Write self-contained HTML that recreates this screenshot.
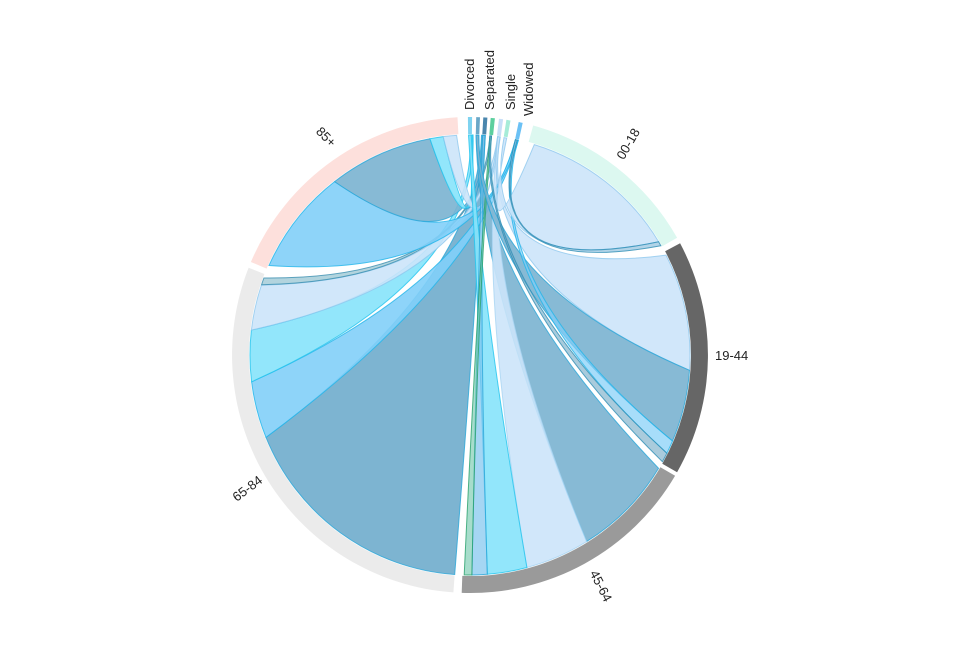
<!DOCTYPE html>
<html><head><meta charset="utf-8"><style>
html,body{margin:0;padding:0;background:#fff;}
svg{display:block;font-family:"Liberation Sans","DejaVu Sans",sans-serif;}
</style></head><body>
<svg id="s" width="980" height="657" viewBox="0 0 980 657" xmlns="http://www.w3.org/2000/svg"></svg>
<script>
var cx=470,cy=355,Ro=238,Ri=221,R=220,qx=478,qy=280;
var s=document.getElementById('s');
function p(a,r){a=a*Math.PI/180;return [cx+r*Math.sin(a),cy-r*Math.cos(a)];}
function f(q){return q[0].toFixed(1)+','+q[1].toFixed(1);}
function add(tag,attrs,txt){var e=document.createElementNS('http://www.w3.org/2000/svg',tag);for(var k in attrs)e.setAttribute(k,attrs[k]);if(txt)e.textContent=txt;s.appendChild(e);return e;}
function band(a1,a2,col){
 var l=(a2-a1)>180?1:0;
 add('path',{d:'M'+f(p(a1,Ro))+'A'+Ro+','+Ro+' 0 '+l+' 1 '+f(p(a2,Ro))+'L'+f(p(a2,Ri))+'A'+Ri+','+Ri+' 0 '+l+' 0 '+f(p(a1,Ri))+'Z',fill:col});
}
function rib(a1,a2,t1,t2,fill,stroke,op){
 var l=(a2-a1)>180?1:0;
 var d='M'+f(p(a1,R))+'A'+R+','+R+' 0 '+l+' 1 '+f(p(a2,R))+'Q'+qx+','+qy+' '+f(p(t1,R))+'A'+R+','+R+' 0 0 1 '+f(p(t2,R))+'Q'+qx+','+qy+' '+f(p(a1,R))+'Z';
 add('path',{d:d,fill:fill,stroke:stroke,'stroke-width':1,'fill-opacity':op||0.9,'stroke-opacity':0.8});
}
band(15.4,60.5,'#dcf8f0');
band(62,119.5,'#666666');
band(120.5,182,'#9a9a9a');
band(184,291.5,'#ebebeb');
band(293,357,'#fde0dc');
[[359.5,360.5,'#7fd3f0'],[1.5,2.4,'#6aa7c7'],[3.2,4.2,'#4a86ad'],[5,6,'#5ccf9e'],[7,8,'#c7dff7'],[8.8,9.8,'#a6ecd8'],[11.8,12.8,'#6bc1f5']].forEach(function(b){band(b[0],b[1],b[2]);});
var DK='#7ab3d0',LT='#cce4fa',CY='#86e3fb',MB='#82cff8';
var st='#2aa6d8';
// 65-84
rib(184,248,3,4,DK,st,0.98);
rib(248,263,11.9,12.7,MB,'#22b5ea');
rib(263,276.5,0,0.8,CY,'#22c4ee');
rib(276.5,288.5,7.2,7.9,LT,'#8fc8ee');
rib(288.6,290.5,5.2,5.6,'#7fb8c8','#3a8fb0',0.6);
// 85+
rib(294,322,11.9,12.6,MB,'#22b5ea');
rib(322,349.5,3.2,4,DK,st);
rib(349.5,353,0,0.6,CY,'#22c4ee');
rib(353,356.5,7.3,7.8,LT,'#8fc8ee');
// 45-64
rib(121,148,1.6,2.3,DK,st);
rib(148,165,7.4,7.9,LT,'#a8d4f2');
rib(165,175.5,359.6,360.3,CY,'#22c4ee');
rib(175.5,179.5,3.3,3.9,'#7fc4ee',st,0.7);
rib(179.5,181.5,5.2,5.6,'#6cc6a8','#27a06c',0.6);
// 19-44
rib(63,94,7.2,7.8,LT,'#8fc8ee');
rib(94,113,1.6,2.3,DK,st);
rib(113,116.5,11.9,12.6,MB,'#22b5ea',0.7);
rib(116.5,119,5.2,5.6,'#6fa9c4','#2f8fb5',0.6);
// 00-18
rib(17,59,8.9,9.6,LT,'#8fc8ee');
rib(59,60.2,11.9,12.4,'#7fb8d8','#2f8fb5',0.6);
function lbl(x,y,rot,t,anchor){add('text',{x:x,y:y,'font-size':13,fill:'#222','text-anchor':anchor||'middle',transform:'rotate('+rot+' '+x+' '+y+')'},t);}
lbl(632,146,-60,'00-18');
lbl(715,360,0,'19-44','start');
lbl(597,588,63,'45-64');
lbl(250,492,-37,'65-84');
lbl(323,140,45,'85+');
lbl(474,110,-90,'Divorced','start');
lbl(494,110,-90,'Separated','start');
lbl(515,110,-90,'Single','start');
lbl(533,116,-90,'Widowed','start');
</script>
</body></html>
